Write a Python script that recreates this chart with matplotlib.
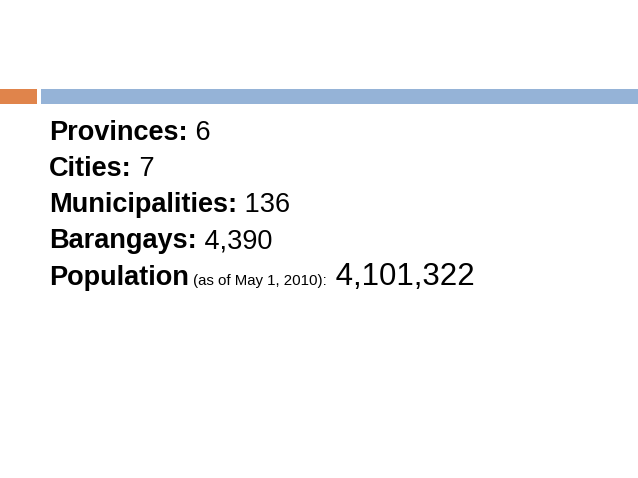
import matplotlib.pyplot as plt
from matplotlib.patches import Rectangle

W, H = 638, 478
labels = ["Provinces:", "Cities:", "Municipalities:", "Barangays:", "Population"]
notes = ["", "", "", "", " (as of May 1, 2010):"]
values = [" 6", " 7", " 136", " 4,390", " 4,101,322"]
value_sizes = [19.5, 19.5, 19.5, 19.5, 22.5]
baselines = [140, 176, 212, 248, 285]

fig = plt.figure(figsize=(W / 100, H / 100), dpi=100)
fig.patch.set_facecolor("white")

# header bars
fig.add_artist(Rectangle((0, 1 - 104 / H), 37 / W, 15 / H, transform=fig.transFigure,
                         color="#E0844B", lw=0))
fig.add_artist(Rectangle((41 / W, 1 - 104 / H), 597 / W, 15 / H, transform=fig.transFigure,
                         color="#95B3D7", lw=0))

renderer = fig.canvas.get_renderer()
font = "Liberation Sans"
for lab, note, val, vs, yb in zip(labels, notes, values, value_sizes, baselines):
    x = 49
    for txt, size, weight in [(lab, 19.5, "bold"), (note, 10.8, "normal"), (val, vs, "normal")]:
        if not txt:
            continue
        t = fig.text(x / W, 1 - yb / H, txt, fontsize=size, fontweight=weight,
                     family=font, va="baseline", ha="left", color="black")
        x += t.get_window_extent(renderer).width

fig.savefig("out.png", dpi=100)
